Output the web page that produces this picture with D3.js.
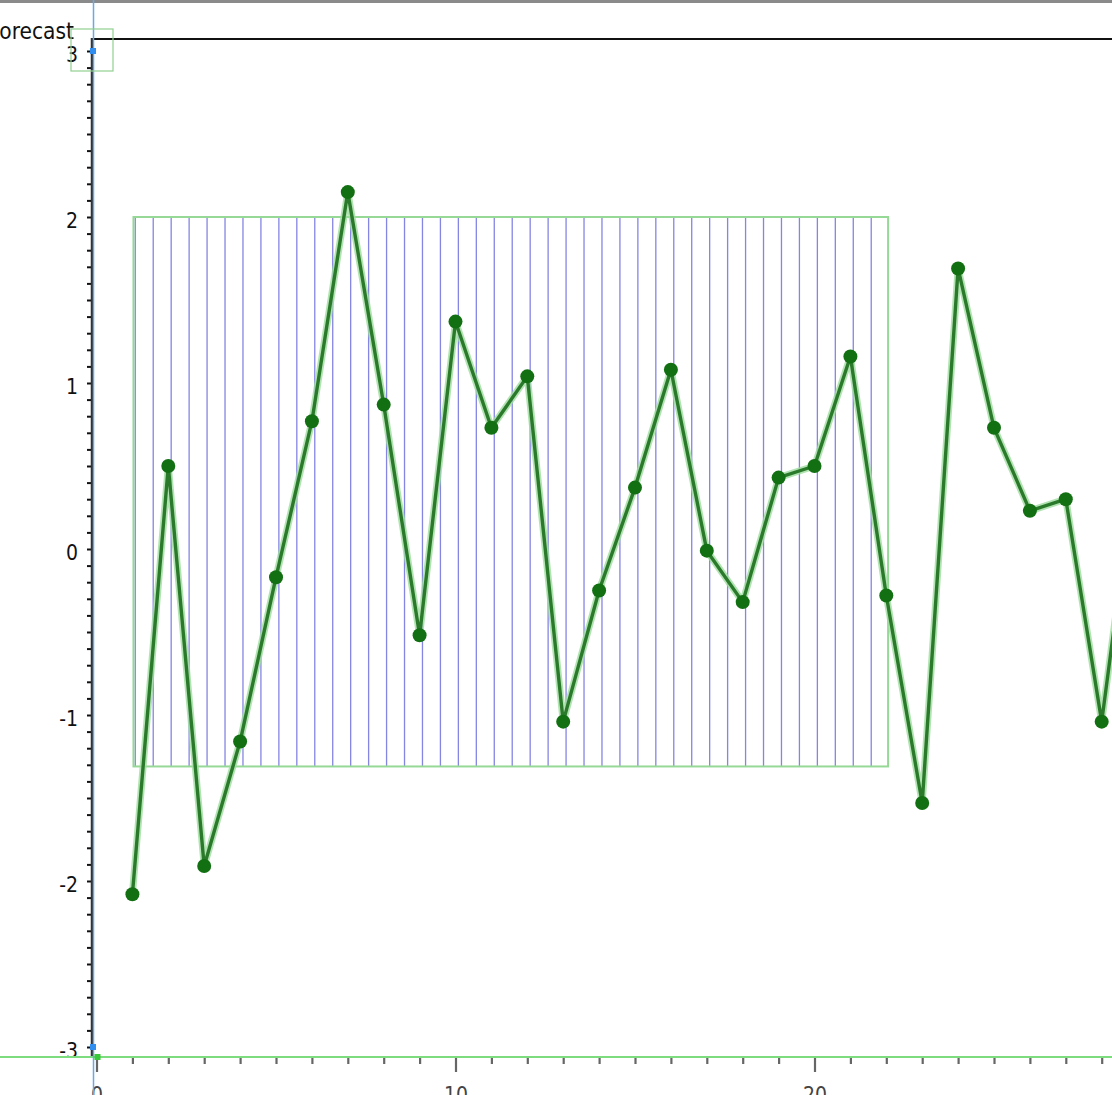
<!DOCTYPE html>
<html><head><meta charset="utf-8">
<script src="https://cdn.jsdelivr.net/npm/d3@7"></script>
<style>
html,body{margin:0;padding:0;background:#fff;overflow:hidden}
text{font-family:"DejaVu Sans Condensed","DejaVu Sans",sans-serif;font-stretch:condensed}
</style></head>
<body>
<svg id="c" width="1112" height="1095"></svg>
<script>
// ---- data ----
const xValues = [1,2,3,4,5,6,7,8,9,10,11,12,13,14,15,16,17,18,19,20,21,22,23,24,25,26,27,28,29];
const forecast = [-2.08,0.50,-1.91,-1.16,-0.17,0.77,2.15,0.87,-0.52,1.37,0.73,1.04,-1.04,-0.25,0.37,1.08,-0.01,-0.32,0.43,0.50,1.16,-0.28,-1.53,1.69,0.73,0.23,0.30,-1.04,0.60];
const bandX = [1.03, 22.05];
const bandY = [-1.31, 2.0];
const hatchStep = 0.5;
const yTickLabels = [-3,-2,-1,0,1,2,3];
const xTickLabels = [0,10,20];
const seriesName = "Forecast";

const svg = d3.select("#c");
const W = 1112, H = 1095;
const x = d3.scaleLinear().domain([0, 28]).range([96.5, 1101.7]);
const y = d3.scaleLinear().domain([-3, 3]).range([1047, 51]);

// top gray bar
svg.append("rect").attr("x",0).attr("y",0).attr("width",W).attr("height",3).attr("fill","#8a8a8a");

// top black frame line
svg.append("line").attr("x1",92).attr("x2",W).attr("y1",39).attr("y2",39)
  .attr("stroke","#111").attr("stroke-width",2.2);

// hatched band
const band = svg.append("g");
const hatches = d3.range(bandX[0] + 0.05, bandX[1] - 0.05, hatchStep);
band.selectAll("line.h").data(hatches).join("line")
  .attr("x1", d => x(d)).attr("x2", d => x(d))
  .attr("y1", y(bandY[1])).attr("y2", y(bandY[0]))
  .attr("stroke","#7070e0").attr("stroke-width",1.3).attr("opacity",0.85);
band.append("rect")
  .attr("x", x(bandX[0])).attr("y", y(bandY[1]))
  .attr("width", x(bandX[1]) - x(bandX[0])).attr("height", y(bandY[0]) - y(bandY[1]))
  .attr("fill","none").attr("stroke","#96d896").attr("stroke-width",2);

// y axis
const yMinor = d3.range(-30, 31).map(d => d / 10);
const isLabel = d => yTickLabels.some(v => Math.abs(v - d) < 1e-6);
const yAxis = d3.axisLeft(y).tickValues(yMinor).tickSize(5).tickPadding(9)
  .tickFormat(d => isLabel(d) ? String(Math.round(d)) : "");
const gy = svg.append("g").attr("transform","translate(92,0)").call(yAxis);
gy.select(".domain").remove();
gy.selectAll(".tick line").attr("stroke","#111").attr("stroke-width",2);
gy.selectAll(".tick text").attr("font-size",21).attr("fill","#111").attr("dy","0.48em");
svg.append("line").attr("x1",92).attr("x2",92).attr("y1",38).attr("y2",1057)
  .attr("stroke","#333").attr("stroke-width",2.5);

// x axis
const xAxis = d3.axisBottom(x).tickValues(d3.range(0, 29)).tickSize(6).tickPadding(8)
  .tickFormat(d => xTickLabels.includes(d) ? String(d) : "");
const gx = svg.append("g").attr("transform","translate(0,1057)").call(xAxis);
gx.select(".domain").remove();
gx.selectAll(".tick line").attr("stroke","#666").attr("stroke-width",2.2)
  .attr("y2", d => xTickLabels.includes(d) ? 15 : 7);
gx.selectAll(".tick text").attr("font-size",21).attr("fill","#444").attr("y",30).attr("dy","0.71em");
svg.append("line").attr("x1",0).attr("x2",W).attr("y1",1057).attr("y2",1057)
  .attr("stroke","#7ddc7d").attr("stroke-width",2);

// light blue vertical selection line
svg.append("line").attr("x1",93.5).attr("x2",93.5).attr("y1",0).attr("y2",H)
  .attr("stroke","#6aa8ec").attr("stroke-width",1.5);

// series line
const pts = xValues.map((d, i) => [d, forecast[i]]);
const line = d3.line().x(d => x(d[0])).y(d => y(d[1]));
svg.append("path").datum(pts).attr("d", line).attr("fill","none")
  .attr("stroke","#9fdc9f").attr("stroke-width",7).attr("stroke-linejoin","round").attr("opacity",0.8);
svg.append("path").datum(pts).attr("d", line).attr("fill","none")
  .attr("stroke","#2b7a2b").attr("stroke-width",3.4).attr("stroke-linejoin","round");
svg.selectAll("circle.m").data(pts).join("circle")
  .attr("cx", d => x(d[0])).attr("cy", d => y(d[1])).attr("r",7)
  .attr("fill","#127012");

// legend / series label
svg.append("text").attr("x",74).attr("y",39).attr("text-anchor","end")
  .attr("font-size",22.5).attr("fill","#111").text(seriesName);
svg.append("rect").attr("x",71).attr("y",29).attr("width",42).attr("height",42)
  .attr("fill","none").attr("stroke","#8fd08f").attr("stroke-width",1.2);

// handle markers
svg.append("rect").attr("x",90).attr("y",y(3)-3).attr("width",6).attr("height",6).attr("fill","#2f8ef0");
svg.append("rect").attr("x",90).attr("y",y(-3)-3).attr("width",6).attr("height",6).attr("fill","#2f8ef0");
svg.append("rect").attr("x",x(0)-2).attr("y",1054).attr("width",6).attr("height",6).attr("fill","#38c838");
</script>
</body></html>
